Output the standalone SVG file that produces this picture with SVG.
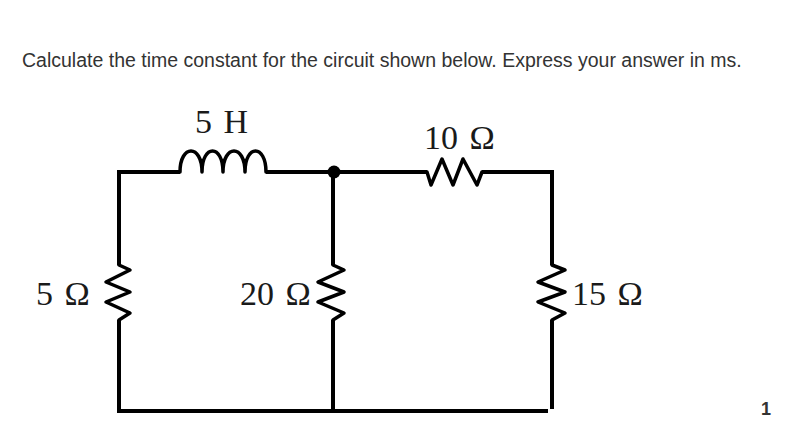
<svg xmlns="http://www.w3.org/2000/svg" width="799" height="427" viewBox="0 0 799 427">
<style>
.w{fill:none;stroke:#000;stroke-width:4;stroke-linejoin:miter}
.r{fill:none;stroke:#000;stroke-width:3.5;stroke-linejoin:round;stroke-linecap:round}
.v{font-family:"Liberation Serif",serif;font-size:34px;word-spacing:3px;fill:#1a1a1a}
.q{font-family:"Liberation Sans",Arial,sans-serif;font-size:19.5px;fill:#333}
</style>
<rect width="799" height="427" fill="#fff"/>
<text id="question" class="q" x="22" y="67">Calculate the time constant for the circuit shown below. Express your answer in ms.</text>
<text id="page-number" x="761" y="415" font-family="'Liberation Sans',Arial,sans-serif" font-size="18" font-weight="700" fill="#333">1</text>
<g id="connectors">
<path class="w" d="M119 265V172H180M266 172H427M482 172H552V265"/>
<path class="w" d="M119 320V411M333 172V265M333 320V411M552 320V409"/>
<path class="w" d="M117 411H548"/>
</g>
<g id="inductor-5H">
<path class="r" d="M180 172C180 144 202 144 202 172C202 144 223 144 223 172C223 144 245 144 245 172C245 144 266 144 266 172"/>
<text class="v" x="195" y="133">5 H</text>
</g>
<g id="resistor-10">
<path class="r" d="M427 172L431 185L442 159L453 185L463 159L477 185L482 172"/>
<text class="v" x="424" y="149">10 Ω</text>
</g>
<g id="junction"><circle cx="334" cy="172" r="6.5" fill="#000"/></g>
<g id="resistor-5">
<path class="r" d="M119 265L130 270L106 282L130 292L106 302L130 313L119 320"/>
<text class="v" x="36" y="305">5 Ω</text>
</g>
<g id="resistor-20">
<path class="r" d="M333 265L344 270L318 282L344 292L318 302L344 313L333 320"/>
<text class="v" x="240" y="305">20 Ω</text>
</g>
<g id="resistor-15">
<path class="r" d="M552 265L565 270L538 282L565 292L538 302L565 313L552 320"/>
<text class="v" x="572" y="305">15 Ω</text>
</g>
</svg>
